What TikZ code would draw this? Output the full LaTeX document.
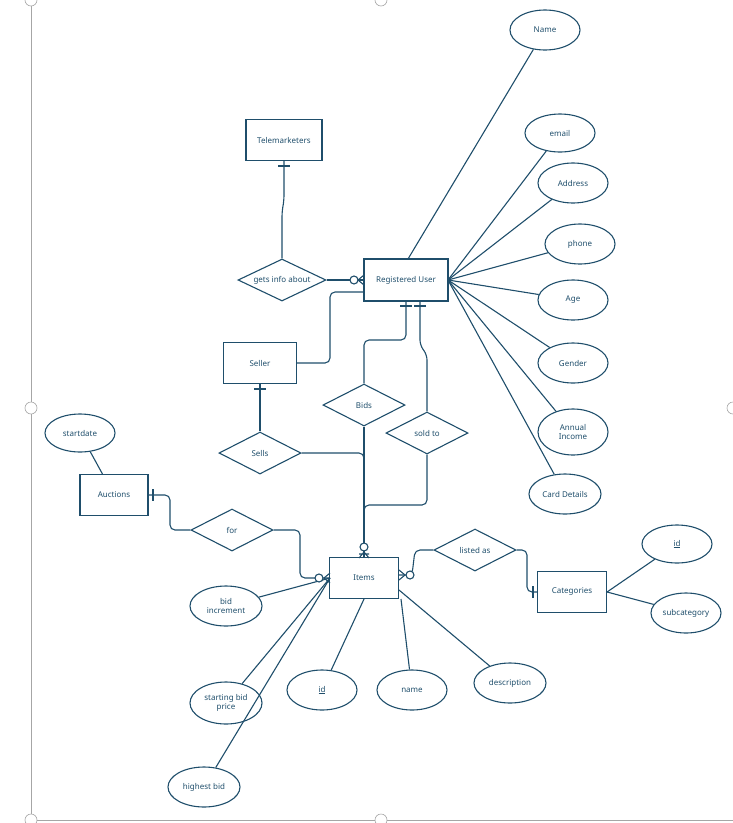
\documentclass[tikz,border=0pt]{standalone}
\usepackage{fontspec}
\setmainfont{Noto Sans}
\usetikzlibrary{shapes.geometric}
\definecolor{er}{HTML}{1F4E6B}
\begin{document}
\begin{tikzpicture}[x=1pt,y=-1pt,
  every node/.style={font=\fontsize{8}{9.5}\selectfont,text=er},
  ent/.style={draw=er,line width=1.1pt,minimum width=70pt,minimum height=41pt,inner sep=1pt},
  attr/.style={draw=er,ellipse,line width=1.1pt,minimum width=70pt,minimum height=40pt,inner sep=0pt,align=center},
  rel/.style={draw=er,diamond,aspect=2,line width=1.1pt,minimum width=82pt,minimum height=42pt,inner sep=0pt},
  ln/.style={draw=er,line width=1.1pt,rounded corners=5pt},
  frm/.style={draw=gray!70,line width=0.8pt},
  hd/.style={draw=gray!70,fill=white,line width=0.6pt}]
\useasboundingbox (0,0) rectangle (733,823);
% frame
\draw[frm] (31,0) -- (31,820) -- (733,820);
\foreach \p in {(31,0),(381,0),(31,408),(733,408),(31,820),(381,820)} \draw[hd] \p circle (6);
% entities
\node[ent,minimum width=84pt,minimum height=42pt] (ru) at (406,280) {Registered User};
\node[ent,minimum width=76pt] (tm) at (284,140) {Telemarketers};
\node[ent,minimum width=73pt] (sel) at (260,363) {Seller};
\node[ent,minimum width=68pt] (auc) at (114,495) {Auctions};
\node[ent,minimum width=69pt] (it) at (364,578) {Items};
\node[ent,minimum width=69pt] (cat) at (572,592) {Categories};
% relationships
\node[rel,minimum width=88pt] (gia) at (282,280) {gets info about};
\node[rel] (bids) at (364,405) {Bids};
\node[rel] (sold) at (427,433) {sold to};
\node[rel] (sells) at (260,453) {Sells};
\node[rel] (for) at (232,530) {for};
\node[rel] (la) at (475,550) {listed as};
% attributes
\node[attr] (name) at (545,30) {Name};
\node[attr,minimum height=38pt] (email) at (560,133) {email};
\node[attr] (addr) at (573,183) {Address};
\node[attr] (phone) at (580,244) {phone};
\node[attr] (age) at (573,300) {Age};
\node[attr] (gen) at (573,363) {Gender};
\node[attr,minimum height=46pt] (inc) at (573,432) {Annual\\Income};
\node[attr,minimum width=72pt] (card) at (565,494) {Card Details};
\node[attr,minimum height=38pt] (sd) at (80,433) {startdate};
\node[attr,minimum height=38pt] (cid) at (677,544) {\underline{id}};
\node[attr] (sub) at (686,613) {subcategory};
\node[attr,minimum width=72pt] (bi) at (226,606) {bid\\increment};
\node[attr,minimum width=72pt,minimum height=42pt] (sbp) at (226,703) {starting bid\\price};
\node[attr] (iid) at (322,690) {\underline{id}};
\node[attr] (iname) at (412,690) {name};
\node[attr,minimum width=72pt] (desc) at (510,683) {description};
\node[attr,minimum width=72pt] (hb) at (204,787) {highest bid};
% attribute lines
\coordinate (rur) at (448,280);
\draw[ln] (name) -- (408,259);
\foreach \a in {email,addr,phone,age,gen,inc,card} \draw[ln] (\a) -- (rur);
\draw[ln] (sd) -- (auc);
\draw[ln] (cid) -- (cat.east);
\draw[ln] (sub) -- (cat.east);
\coordinate (itl) at (330,578);
\draw[ln] (bi) -- (itl);
\draw[ln] (sbp) -- (itl);
\draw[ln] (hb) -- (itl);
\draw[ln] (iid) -- (it.south);
\draw[ln] (iname) -- (401,599);
\draw[ln] (desc) -- (399,590);
% relationship lines
\draw[ln] (tm.south) -- (284,200) -- (282,212) -- (gia.north);
\draw[ln] (gia.east) -- (ru.west);
\draw[ln] (364,292) -- (330,292) -- (330,363) -- (sel.east);
\draw[ln] (406,301) -- (406,340) -- (364,340) -- (bids.north);
\draw[ln] (420,301) -- (420,345) -- (427,355) -- (sold.north);
\draw[ln] (bids.south) -- (it.north);
\draw[ln] (sells.east) -- (364,453) -- (364,470);
\draw[ln] (sold.south) -- (427,505) -- (364,505) -- (364,520);
\draw[ln] (sel.south) -- (sells.north);
\draw[ln] (auc.east) -- (170,495) -- (170,530) -- (for.west);
\draw[ln] (for.east) -- (300,530) -- (300,578) -- (itl);
\draw[ln] (399,575) -- (412,575) -- (415,550) -- (la.west);
\draw[ln] (la.east) -- (527,550) -- (527,592) -- (cat.west);
% marks
\begin{scope}[draw=er,line width=1.1pt]
\draw (278,166) -- (290,166);
\draw (254,389) -- (266,389);
\draw (400,306) -- (412,306);
\draw (414,306) -- (426,306);
\draw (153,489) -- (153,501);
\draw (533,586) -- (533,598);
% zero-or-many at RU
\draw[fill=white] (354,280) circle (4);
\draw (358,280) -- (364,275) (358,280) -- (364,285);
% at Items top
\draw[fill=white] (364,547) circle (4);
\draw (364,552) -- (359,558) (364,552) -- (369,558) (359,554) -- (369,554);
% at Items left
\draw[fill=white] (319,578) circle (4);
\draw (324,578) -- (330,573) (324,578) -- (330,583);
% at Items right
\draw[fill=white] (410,575) circle (4);
\draw (405,575) -- (399,570) (405,575) -- (399,580);
\end{scope}
\end{tikzpicture}
\end{document}
